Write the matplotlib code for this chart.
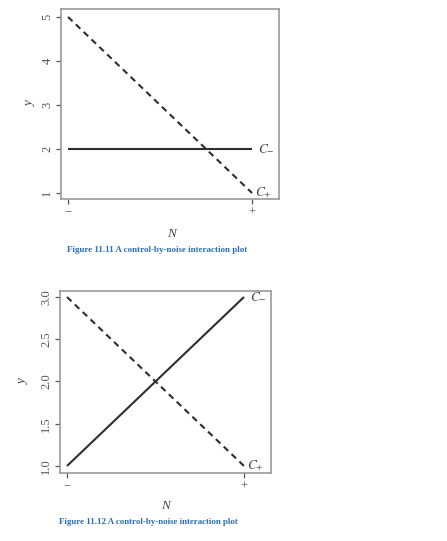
import matplotlib
matplotlib.use("Agg")
import matplotlib.pyplot as plt

plt.rcParams['font.family'] = 'Liberation Serif'
plt.rcParams['mathtext.fontset'] = 'stix'

# noise levels
N_levels = [-1, 1]
N_ticklabels = ['\u2212', '+']

# Figure 11.11
fig1_c_minus = [2, 2]
fig1_c_plus = [5, 1]
fig1_yticks = [1, 2, 3, 4, 5]
fig1_yticklabels = ['1', '2', '3', '4', '5']
fig1_caption = 'Figure 11.11 A control-by-noise interaction plot'

# Figure 11.12
fig2_c_minus = [1, 3]
fig2_c_plus = [3, 1]
fig2_yticks = [1.0, 1.5, 2.0, 2.5, 3.0]
fig2_yticklabels = ['1.0', '1.5', '2.0', '2.5', '3.0']
fig2_caption = 'Figure 11.12 A control-by-noise interaction plot'

W, H = 447, 541
fig = plt.figure(figsize=(W / 100, H / 100), dpi=100)

line_col = '#2e2e2e'
frame_col = '#9a9a9a'
tick_col = '#555555'
cap_col = '#2a6db5'


def px_axes(left, top, right, bottom):
    return fig.add_axes([left / W, 1 - bottom / H, (right - left) / W, (bottom - top) / H])


def draw_panel(ax, c_minus, c_plus, yticks, yticklabels, xlim, ylim,
               nlab, ylab, cminus_off, cplus_off):
    ax.plot(N_levels, c_minus, color=line_col, lw=1.5, solid_capstyle='butt')
    ax.plot(N_levels, c_plus, color=line_col, lw=1.5, dashes=(3.0, 2.2))
    ax.set_xlim(*xlim)
    ax.set_ylim(*ylim)
    ax.set_xticks(N_levels)
    ax.set_xticklabels(N_ticklabels)
    ax.set_yticks(yticks)
    ax.set_yticklabels(yticklabels, rotation=90, va='center')
    for s in ax.spines.values():
        s.set_color(frame_col)
        s.set_linewidth(1.2)
    ax.tick_params(length=3.5, width=0.9, color=tick_col, labelcolor=tick_col,
                   labelsize=9, pad=2)
    ax.set_xlabel('N', fontstyle='italic', fontsize=9.5, color='#444444')
    ax.xaxis.set_label_coords(*nlab)
    ax.set_ylabel('y', fontstyle='italic', fontsize=9.5, color='#444444')
    ax.yaxis.set_label_coords(*ylab)
    ax.annotate(r'$C_{-}$', (N_levels[-1], c_minus[-1]), xytext=cminus_off,
                textcoords='offset points', fontsize=9.5, color='#444444',
                ha='left', va='center')
    ax.annotate(r'$C_{+}$', (N_levels[-1], c_plus[-1]), xytext=cplus_off,
                textcoords='offset points', fontsize=9.5, color='#444444',
                ha='left', va='center')


ax1 = px_axes(61, 9, 279, 199)
draw_panel(ax1, fig1_c_minus, fig1_c_plus, fig1_yticks, fig1_yticklabels,
           (-1.076, 1.293), (0.864, 5.18), (0.509, -0.153), (-0.115, 0.5),
           (4, 0), (2, 0))
fig.text(157 / W, 1 - 250 / H, fig1_caption, color=cap_col, fontweight='bold',
         fontsize=6.45, ha='center', va='center')

ax2 = px_axes(60, 291, 271, 473)
draw_panel(ax2, fig2_c_minus, fig2_c_plus, fig2_yticks, fig2_yticklabels,
           (-1.079, 1.305), (0.917, 3.071), (0.498, -0.148), (-0.147, 0.5),
           (4, 0), (2, 0))
fig.text(148 / W, 1 - 522 / H, fig2_caption, color=cap_col, fontweight='bold',
         fontsize=6.4, ha='center', va='center')

fig.savefig('out.png', dpi=100)
